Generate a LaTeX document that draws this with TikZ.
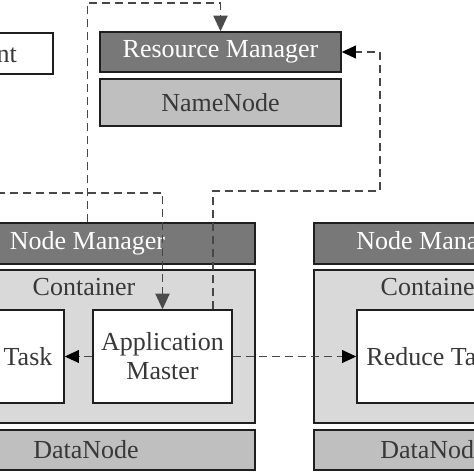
\documentclass[tikz,border=0pt]{standalone}
\usepackage{fontspec}
\setmainfont{Liberation Serif}
\usetikzlibrary{arrows.meta}
\begin{document}
\begin{tikzpicture}[x=1pt,y=-1pt,
  box/.style={draw=black!88, line width=1.4pt, rectangle, inner sep=0pt,
    font=\fontsize{26}{29}\selectfont, text=black!78, align=center},
  dark/.style={box, fill=black!53, text=white},
  midgray/.style={box, fill=black!25},
  light/.style={box, fill=black!15},
  plain/.style={box, fill=white},
  lbl/.style={inner sep=0pt, font=\fontsize{26}{29}\selectfont, text=black!78},
  conn/.style={dash pattern=on 8pt off 5pt, line width=1.3pt, draw=black!72},
  tipg/.style={arrows={-Triangle[length=0.55cm,width=0.5cm,color=black!70]}},
  tipk/.style={arrows={-Triangle[length=0.5cm,width=0.45cm,color=black]}},
]
\useasboundingbox (0,0) rectangle (474,474);
\clip (0,0) rectangle (474,474);
\fill[white] (0,0) rectangle (474,474);

% top
\node[plain, minimum width=136pt, minimum height=41pt] (client) at (-15,53.5) {Client};
\node[dark, minimum width=241pt, minimum height=40pt] (rm) at (220.5,52) {Resource Manager};
\node[midgray, minimum width=241pt, minimum height=47pt] (nn) at (220.5,102.5) {NameNode};

% left node
\node[dark, minimum width=335pt, minimum height=41pt] (nmL) at (87.5,243.5) {Node Manager};
\node[light, minimum width=342pt, minimum height=153pt] (contL) at (84,346.5) {};
\node[lbl] (contLtxt) at (84,287) {Container};
\node[plain, minimum width=72pt, minimum height=93pt] (taskL) at (28,356.5) {Task};
\node[plain, minimum width=139pt, minimum height=93pt] (am) at (162.5,356.5) {Application\\Master};
\node[midgray, minimum width=338pt, minimum height=40pt] (dnL) at (86,450) {DataNode};

% right node
\node[dark, minimum width=240pt, minimum height=41pt] (nmR) at (434,243.5) {Node Manager};
\node[light, minimum width=236pt, minimum height=153pt] (contR) at (432,346.5) {};
\node[lbl] (contRtxt) at (432,287) {Container};
\node[plain, minimum width=152pt, minimum height=93pt] (reduce) at (433,356.5) {Reduce Task};
\node[midgray, minimum width=238pt, minimum height=40pt] (dnR) at (433,450) {DataNode};

% connectors
\draw[conn, tipg] (client.south) |- (am.north |- 0,193) -- (am.north);
\draw[conn, tipg] (nmL.north) -- (nmL.north |- 0,3) -| (rm.north);
\draw[conn, tipk] ([xshift=50.5pt]am.north) |- (380,191) |- (rm.east);
\draw[conn, tipk] (am.east) -- (reduce.west);
\draw[conn, tipk] (am.west) -- (taskL.east);
\end{tikzpicture}
\end{document}
